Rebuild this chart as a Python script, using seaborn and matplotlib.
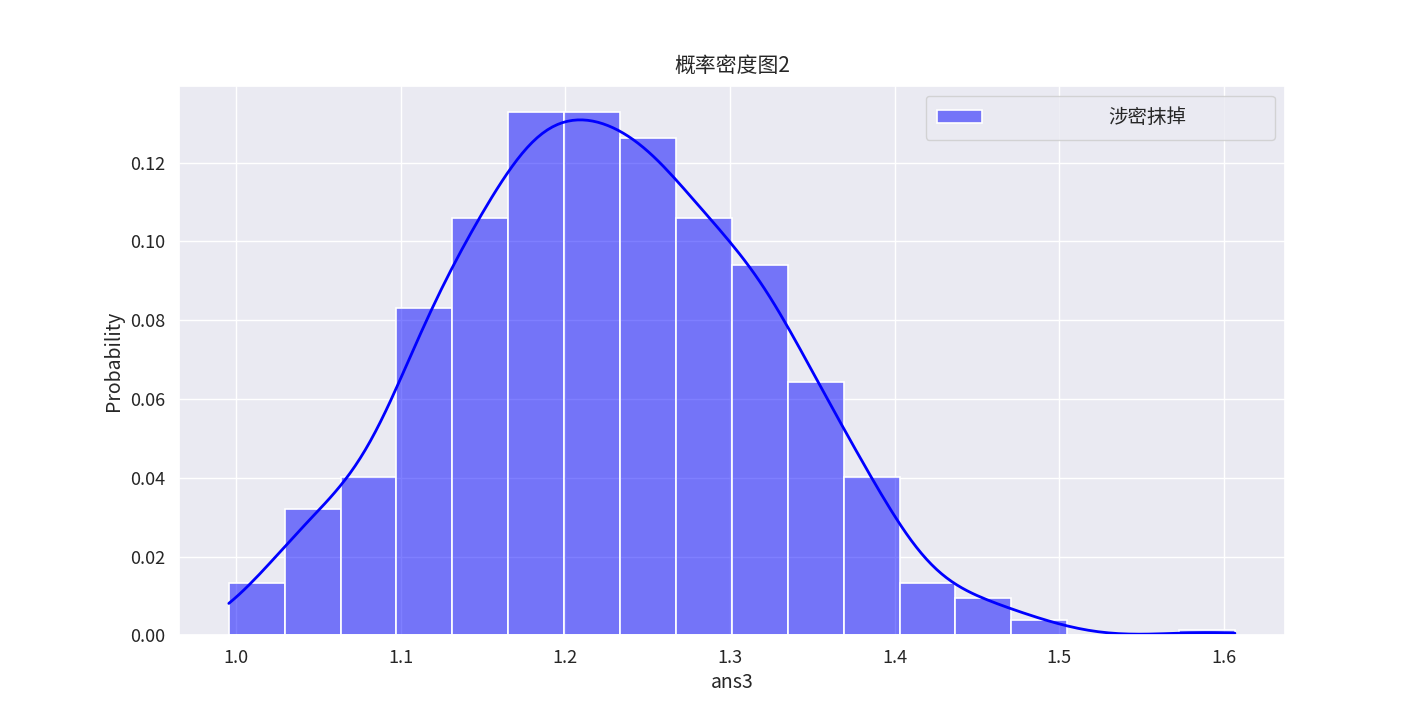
import numpy as np
import pandas as pd
import matplotlib
matplotlib.use('Agg')
import matplotlib.pyplot as plt
import seaborn as sns

# 직방도 구간 (bin) 과 각 구간 개수 - 그림에서 읽은 값
bin_lo = 0.9957
bin_hi = 1.6067
n_bins = 18
counts = [10, 24, 30, 62, 79, 99, 99, 94, 79, 70, 48, 30, 10, 7, 3, 0, 0, 1]

edges = np.linspace(bin_lo, bin_hi, n_bins + 1)
centers = (edges[:-1] + edges[1:]) / 2
df = pd.DataFrame({'ans3': np.repeat(centers, counts)})

sns.set_theme(style='darkgrid')
plt.rcParams['font.family'] = ['Noto Sans CJK SC', 'DejaVu Sans']
plt.rcParams['axes.unicode_minus'] = False

fig, ax = plt.subplots(figsize=(14.28, 7.14), dpi=100)
sns.histplot(data=df, x='ans3', bins=edges, stat='probability', kde=True,
             color='blue', alpha=0.5, edgecolor='white', linewidth=1.2,
             kde_kws={'cut': 1, 'clip': (bin_lo, bin_hi)},
             line_kws={'linewidth': 2}, ax=ax)

ax.set_title('概率密度图2', fontsize=15, pad=10)
ax.set_xlabel('ans3', fontsize=14)
ax.set_ylabel('Probability', fontsize=14)
ax.tick_params(labelsize=13)

# 범례 (우측 상단, 넓은 박스)
ax.legend(handles=[ax.patches[0]], labels=['涉密抹掉'], loc='upper left',
          bbox_to_anchor=(0.675, 0.0, 0.316, 0.982), mode='expand',
          borderaxespad=0, handletextpad=6.5, handlelength=2.3,
          borderpad=0.6, fontsize=14)

plt.savefig('out.png')
